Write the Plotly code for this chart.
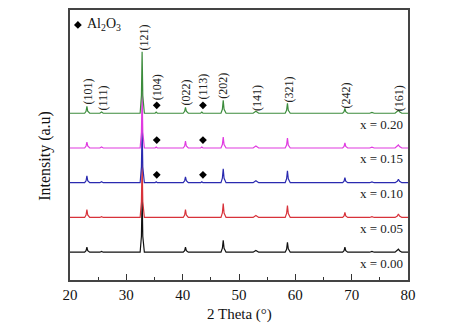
import plotly.graph_objects as go

# 2-theta vertex positions of the traced patterns (degrees)
two_theta = [20.0,
             22.6, 22.85, 23.0, 23.15, 23.5,
             25.3, 25.6, 25.9,
             32.45, 32.68, 32.8, 32.92, 33.2,
             35.1, 35.3, 35.5,
             40.1, 40.35, 40.5, 40.65, 41.0,
             43.2, 43.4, 43.6,
             46.8, 47.05, 47.2, 47.35, 47.7,
             52.5, 53.0, 53.5,
             58.2, 58.45, 58.6, 58.75, 59.1,
             68.4, 68.65, 68.8, 68.95, 69.3,
             73.2, 73.6, 74.0,
             77.7, 78.1, 78.3, 78.5, 78.9,
             80.0]

# intensities (a.u.) relative to each pattern's own baseline
int_x000 = [0,
            0, 1.5, 5, 1.5, 0,
            0, 0.8, 0,
            0, 16, 56, 16, 0,
            0, 0.3, 0,
            0, 1.5, 5, 1.5, 0,
            0, 0.5, 0,
            0, 4, 12, 4, 0,
            0, 1.8, 0,
            0, 3, 10, 3.5, 0,
            0, 1.5, 5, 1.5, 0,
            0, 0.8, 0,
            0, 1.5, 3, 1.5, 0,
            0]
int_x005 = [0,
            0, 2.5, 8, 2.5, 0,
            0, 0.8, 0,
            0, 16, 56, 16, 0,
            0, 0.4, 0,
            0, 2.5, 8, 2.5, 0,
            0, 0.5, 0,
            0, 4.5, 14, 4.5, 0,
            0, 2, 0,
            0, 4, 12, 4, 0,
            0, 1.5, 5, 1.5, 0,
            0, 0.8, 0,
            0, 1.5, 3.5, 1.5, 0,
            0]
int_x010 = [0,
            0, 2, 7, 2, 0,
            0, 1, 0,
            0, 16, 56, 16, 0,
            0, 1, 0,
            0, 2, 6, 2, 0,
            0, 1, 0,
            0, 4.5, 14, 4.5, 0,
            0, 2, 0,
            0, 4, 12, 4, 0,
            0, 1.5, 5, 1.5, 0,
            0, 0.8, 0,
            0, 1.5, 3.5, 1.5, 0,
            0]
int_x015 = [0,
            0, 2, 6, 2, 0,
            0, 1, 0,
            0, 16, 56, 16, 0,
            0, 1, 0,
            0, 2, 7, 2, 0,
            0, 1, 0,
            0, 3.5, 11, 3.5, 0,
            0, 2, 0,
            0, 3, 10, 3, 0,
            0, 1.5, 5, 1.5, 0,
            0, 0.8, 0,
            0, 1.5, 3, 1.5, 0,
            0]
int_x020 = [0,
            0, 2, 7, 2, 0,
            0, 1.2, 0,
            0, 18, 62, 18, 0,
            0, 1.2, 0,
            0, 2, 6, 2, 0,
            0, 1.2, 0,
            0, 4, 13, 4, 0,
            0, 2, 0,
            0, 3, 10, 3, 0,
            0, 1.5, 5, 1.5, 0,
            0, 0.8, 0,
            0, 1.5, 3, 1.5, 0,
            0]

series_names = ["x = 0.00", "x = 0.05", "x = 0.10", "x = 0.15", "x = 0.20"]
series_data = [int_x000, int_x005, int_x010, int_x015, int_x020]
series_colors = ["#111111", "#d8323a", "#2a2ab0", "#e03ae0", "#3c8c3c"]
offsets = [28, 63, 98, 133, 168]

# Miller index labels
hkl_labels = ["(101)", "(111)", "(121)", "(104)", "(022)", "(113)", "(202)",
              "(141)", "(321)", "(242)", "(161)"]
hkl_pos = [23.2, 25.9, 33.1, 35.6, 40.6, 43.6, 47.2, 53.3, 58.9, 69.0, 78.4]
hkl_y = [190, 183, 244, 194, 189, 195, 196, 183, 192, 186, 183]

# Al2O3 reflections (diamond markers), present in x = 0.10, 0.15, 0.20
al2o3_pos = [35.4, 43.6]
al2o3_series = [2, 3, 4]

fig = go.Figure()

# draw lower patterns first so upper ones sit on top
for name, vals, col, off in zip(series_names, series_data, series_colors, offsets):
    fig.add_trace(go.Scatter(
        x=two_theta, y=[v + off for v in vals], mode="lines",
        line=dict(color=col, width=1.2), name=name, showlegend=False,
        hoverinfo="skip"))
    fig.add_annotation(x=79.4, y=off - 11, text=name, showarrow=False,
                       xanchor="right", yanchor="middle",
                       font=dict(family="Liberation Serif", size=13, color="#222"))

for si in al2o3_series:
    fig.add_trace(go.Scatter(
        x=al2o3_pos, y=[offsets[si] + 8] * len(al2o3_pos), mode="markers",
        marker=dict(symbol="diamond", size=6, color="black"),
        showlegend=False, hoverinfo="skip"))

for lab, px, py in zip(hkl_labels, hkl_pos, hkl_y):
    fig.add_annotation(x=px, y=py, text=lab, showarrow=False, textangle=-90,
                       xanchor="center", yanchor="middle",
                       font=dict(family="Liberation Serif", size=12, color="#222"))

# legend-like marker for Al2O3
fig.add_trace(go.Scatter(x=[21.4], y=[257], mode="markers",
                         marker=dict(symbol="diamond", size=6, color="black"),
                         showlegend=False, hoverinfo="skip"))
fig.add_annotation(x=22.6, y=257, text="Al<sub>2</sub>O<sub>3</sub>", showarrow=False,
                   xanchor="left", yanchor="middle",
                   font=dict(family="Liberation Serif", size=14, color="#111"))

# axis titles
fig.add_annotation(x=0.5, y=0, xref="paper", yref="paper", text="2 Theta (°)",
                   showarrow=False, xanchor="center", yanchor="top", yshift=-24,
                   font=dict(family="Liberation Serif", size=15, color="#111"))
fig.add_annotation(x=0, y=0.46, xref="paper", yref="paper", text="Intensity (a.u)",
                   showarrow=False, textangle=-90, xanchor="center", yanchor="middle",
                   xshift=-25,
                   font=dict(family="Liberation Serif", size=16, color="#111"))

fig.update_layout(
    width=474, height=323,
    margin=dict(l=70, r=66, t=8, b=43),
    paper_bgcolor="white", plot_bgcolor="white",
    xaxis=dict(range=[20, 80], dtick=10, ticks="inside", ticklen=6, tickwidth=1.2,
               tickcolor="#333", showline=True, linecolor="#444", linewidth=1.5,
               mirror=True, showgrid=False, zeroline=False,
               minor=dict(ticks="inside", ticklen=3, dtick=5, tickcolor="#333"),
               tickfont=dict(family="Liberation Serif", size=15, color="#111")),
    yaxis=dict(range=[0, 272], showticklabels=False, ticks="", showline=True,
               linecolor="#444", linewidth=1.5, mirror=True, showgrid=False,
               zeroline=False),
)

fig.write_html("out.html")
